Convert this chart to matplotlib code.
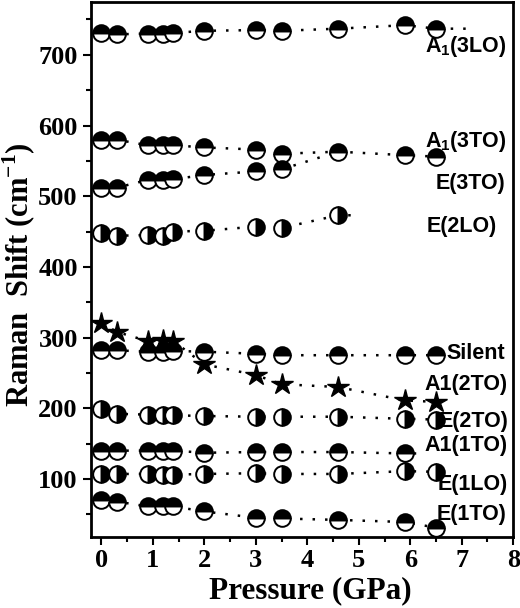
import matplotlib

matplotlib.use("Agg")

import matplotlib.pyplot as plt
from matplotlib.ticker import MultipleLocator

# pressure points (GPa)
pressure = [0.0, 0.3, 0.9, 1.2, 1.4, 2.0, 3.0, 3.5, 4.6, 5.9, 6.5]

# Raman modes (cm-1)
a1_3lo = [731, 729, 730, 729, 731, 734, 735, 734, 737, 742, 737]
a1_3to = [579, 580, 572, 572, 572, 569, 566, 560, 563, 558, 556]
e_3to = [512, 512, 523, 523, 524, 530, 535, 538]
e_2lo = [448, 444, 445, 443, 450, 451, 457, 455, 473]
silent = [283, 282, 280, 279, 281, 280, 277, 275, 275, 275, 275]
a1_2to = [321, 308, 295, 296, 295, 262, 247, 234, 230, 211, 209]
e_2to = [199, 192, 191, 190, 190, 189, 188, 188, 188, 185, 184]
a1_1to = [140, 140, 140, 140, 140, 137, 138, 138, 138, 136]
e_1lo = [107, 107, 107, 105, 106, 107, 108, 107, 107, 111, 110]
e_1to = [70, 68, 61, 61, 61, 54, 45, 44, 42, 39, 31]

# label text and height of each label (cm-1)
labels = ["A$_{\\mathsf{1}}$(3LO)", "A$_{\\mathsf{1}}$(3TO)", "E(3TO)", "E(2LO)", "Silent",
          "A1(2TO)", "E(2TO)", "A1(1TO)", "E(1LO)", "E(1TO)"]
label_y = [712, 578, 518, 457, 277, 234, 181, 147, 92, 50]
label_x = [7.87, 7.87, 7.85, 7.68, 7.85, 7.9, 7.9, 7.9, 7.9, 7.87]

plt.rcParams["mathtext.fontset"] = "custom"
plt.rcParams["mathtext.sf"] = "Liberation Sans:bold"
plt.rcParams["mathtext.bf"] = "Liberation Serif:bold"
plt.rcParams["mathtext.rm"] = "Liberation Serif:bold"

fig = plt.figure(figsize=(5.2, 6.08), dpi=100)
ax = fig.add_axes([0.175, 0.117, 0.812, 0.880])

dot = dict(color="black", lw=1.8, linestyle=(0, (1, 4)), zorder=1)
circ = dict(linestyle="none", marker="o", ms=12, mfc="black", mfcalt="white",
            mec="black", mew=1.4, zorder=3)


def series(y, fill, tail=None):
    x = pressure[:len(y)]
    lx, ly = list(x), list(y)
    if tail is not None:
        lx.append(tail)
        ly.append(y[-1])
    ax.plot(lx, ly, **dot)
    ax.plot(x, y, fillstyle=fill, **circ)


series(a1_3lo, "top", tail=7.1)
series(a1_3to, "top")
series(e_3to, "top")
# E(3TO) merges into A1(3TO) above 3.5 GPa
ax.plot([pressure[len(e_3to) - 1], pressure[len(e_3to)]], [e_3to[-1], a1_3to[len(e_3to)]], **dot)
series(e_2lo, "right", tail=5.0)
series(e_2to, "right")
series(a1_1to, "top", tail=6.3)
series(e_1lo, "right")
series(e_1to, "top")

ax.plot(pressure, a1_2to, **dot)
ax.plot(pressure, a1_2to, linestyle="none", marker="*", ms=16, color="black", zorder=2)
series(silent, "top")

for t, x, y in zip(labels, label_x, label_y):
    ax.text(x, y, t, ha="right", va="center", fontsize=15.5, fontweight="bold",
            family="Liberation Sans", zorder=4)

ax.set_xlim(-0.2, 8)
ax.set_ylim(18, 775)
ax.xaxis.set_major_locator(MultipleLocator(1))
ax.xaxis.set_minor_locator(MultipleLocator(0.5))
ax.yaxis.set_major_locator(MultipleLocator(100))
ax.yaxis.set_minor_locator(MultipleLocator(50))
ax.tick_params(which="both", direction="out", width=1.5, top=False, right=False)
ax.tick_params(which="major", length=5.5, pad=4, labelsize=19)
ax.tick_params(axis="x", which="major", pad=3)
ax.tick_params(which="minor", length=3.5)
for lab in ax.get_xticklabels() + ax.get_yticklabels():
    lab.set_family("Liberation Serif")
    lab.set_fontweight("bold")
for s in ax.spines.values():
    s.set_linewidth(2)

ax.set_xlabel("Pressure (GPa)", fontsize=22.5, fontweight="bold", family="Liberation Serif")
ax.set_ylabel("Raman  Shift (cm$^{\\mathbf{-1}}$)", fontsize=22, fontweight="bold",
              family="Liberation Serif")
ax.xaxis.set_label_coords(0.52, -0.073)
ax.yaxis.set_label_coords(-0.125, 0.49)

fig.savefig("out.png", dpi=100)
plt.close(fig)
